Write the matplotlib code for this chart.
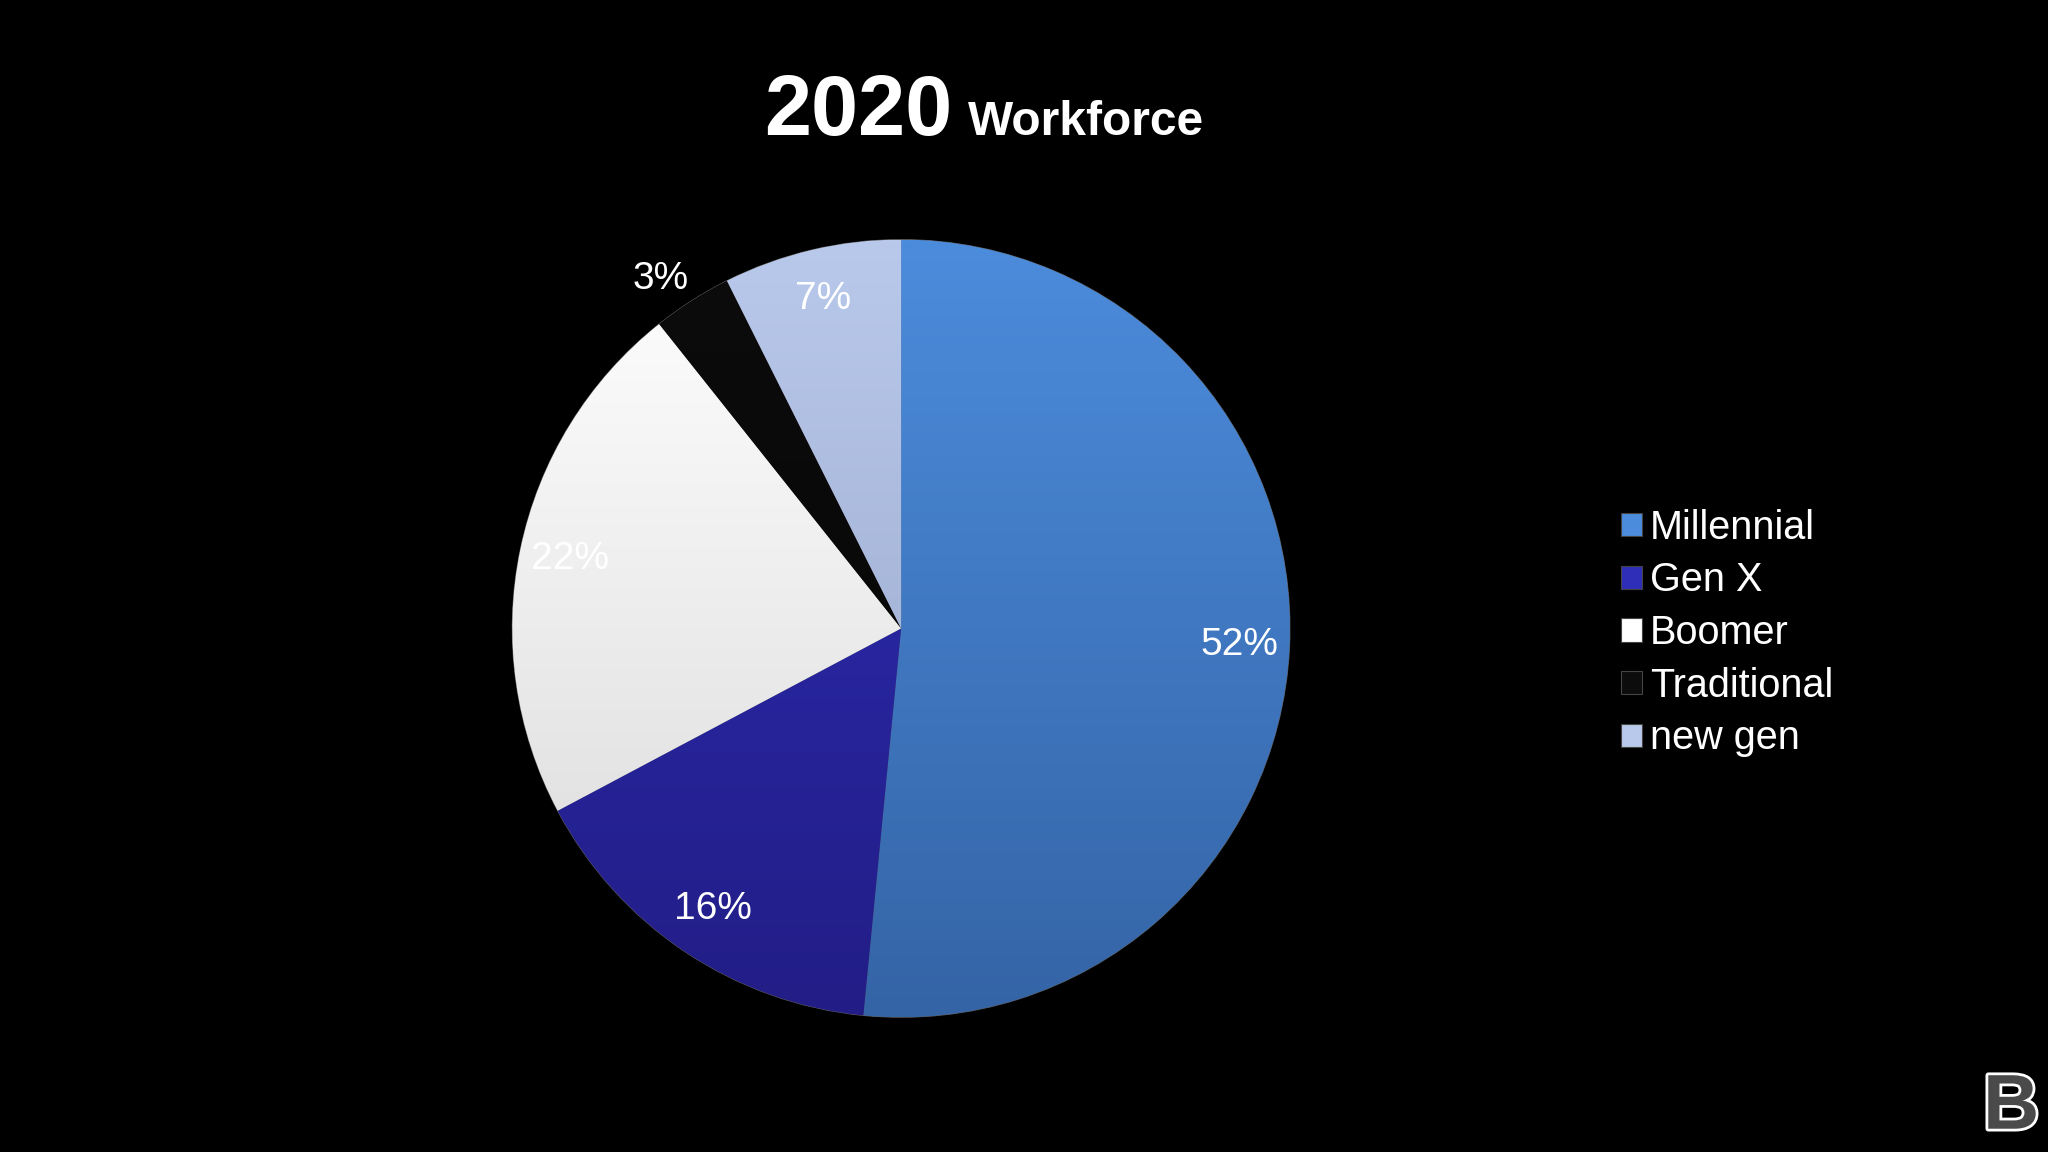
import numpy as np
import matplotlib
matplotlib.use("Agg")
import matplotlib.pyplot as plt
import matplotlib.patheffects as pe
from matplotlib.colors import LinearSegmentedColormap

# dati (quote, etichette arrotondate)
categories = ["Millennial", "Gen X", "Boomer", "Traditional", "new gen"]
shares = [51.6, 15.7, 22.1, 3.3, 7.4]

# colori (alto, basso) per il gradiente verticale
top_colors = ["#4c8cdc", "#2e2eb8", "#ffffff", "#0c0c0c", "#b9c9ec"]
bottom_colors = ["#3464a6", "#221d86", "#d9d9d9", "#050505", "#94a3c6"]

plt.rcParams["font.family"] = ["Liberation Sans", "DejaVu Sans"]

fig = plt.figure(figsize=(20.48, 11.52), dpi=100, facecolor="black")
ax = fig.add_axes([0.25, 0.117, 0.380, 0.675])
ax.set_facecolor("black")

wedges, texts, autotexts = ax.pie(
    shares, startangle=90, counterclock=False, radius=1,
    colors=top_colors, autopct="%.0f%%", pctdistance=0.87,
    wedgeprops=dict(edgecolor="#5a5a5a", linewidth=0.8),
    textprops=dict(color="white", fontsize=28),
)

# gradiente dentro ogni spicchio
grad = np.linspace(1, 0, 256).reshape(-1, 1)
for w, c1, c2 in zip(wedges, top_colors, bottom_colors):
    cmap = LinearSegmentedColormap.from_list("g", [c2, c1])
    im = ax.imshow(grad, cmap=cmap, extent=[-1, 1, -1, 1], aspect="auto",
                   origin="upper", zorder=1.5)
    im.set_clip_path(w)
    w.set_zorder(1)

# etichetta piccola fuori dallo spicchio
for w, t, v in zip(wedges, autotexts, shares):
    if v < 5:
        ang = np.deg2rad((w.theta1 + w.theta2) / 2 + 2)
        t.set_position((1.09 * np.cos(ang), 1.09 * np.sin(ang)))

ax.set_xlim(-1, 1)
ax.set_ylim(-1, 1)
ax.set_aspect("equal")
ax.axis("off")

# titolo
fig.text(764 / 2048, 1 - 135 / 1152, "2020", color="white", fontsize=61,
         fontweight="bold", ha="left", va="baseline")
fig.text(968 / 2048, 1 - 135 / 1152, "Workforce", color="white", fontsize=34.5,
         fontweight="bold", ha="left", va="baseline")

# legenda
leg = fig.legend(wedges, categories, loc="center left",
                 bbox_to_anchor=(1601 / 2048, 1 - 633 / 1152),
                 frameon=False, fontsize=28.5, labelcolor="white",
                 handlelength=0.53, handleheight=0.53, handletextpad=0.2,
                 labelspacing=0.37, borderpad=0)
for h, c in zip(leg.legend_handles, top_colors):
    h.set_facecolor(c)
    h.set_edgecolor("#444444")

# logo
fig.text(0.982, 0.038, "B", color="#4a4a4a", fontsize=56, fontweight="bold",
         ha="center", va="center",
         path_effects=[pe.withStroke(linewidth=4, foreground="white")])

fig.savefig("out.png", dpi=100, facecolor="black")
